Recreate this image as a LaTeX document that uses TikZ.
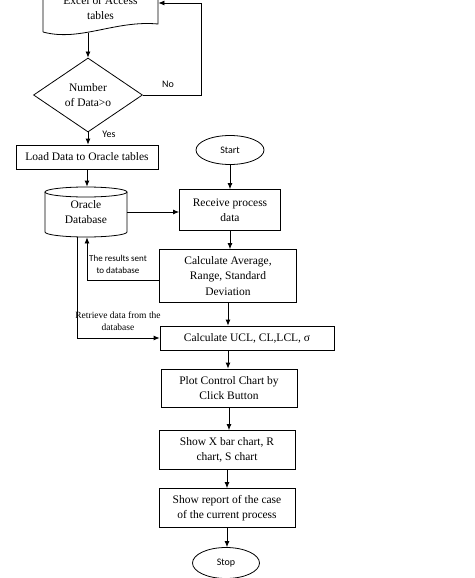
\documentclass[tikz,border=0pt]{standalone}
\usepackage{fontspec}
\setmainfont{Liberation Serif}
\newfontfamily\labfont{Carlito}
\usetikzlibrary{shapes.geometric,arrows.meta}

\begin{document}
\begin{tikzpicture}[
    x=1pt, y=-1pt,
    line width=0.8pt,
    >={Latex[length=6pt,width=5pt]},
    box/.style={rectangle, draw=black, align=center, inner sep=0pt, font=\fontsize{11.5}{15.5}\selectfont},
    term/.style={ellipse, draw=black, inner sep=0pt, font=\labfont\fontsize{10}{12}\selectfont},
    decision/.style={diamond, draw=black, inner sep=0pt, align=center, minimum width=109pt, minimum height=74pt, font=\fontsize{11.5}{15.5}\selectfont},
    tag/.style={inner sep=0pt, font=\labfont\fontsize{10}{12}\selectfont}
  ]

    \useasboundingbox (0,0) rectangle (474,578);
    \clip (0,0) rectangle (474,578);

    % Source document (cut at the top)
    \node[align=center, inner sep=0pt, minimum width=115pt, minimum height=50pt,
      font=\fontsize{11.5}{15.5}\selectfont] (doc) at (100.5,8) {Excel or Access\\tables};
    \draw (43,32) -- (43,-20) -- (158,-20) -- (158,24)
      .. controls (115,20) and (80,42) .. (43,32);
    \coordinate (docout) at (88,33);

    % Decision
    \node[decision] (dec) at (88,95) {Number\\of Data>o};
    \coordinate (loopc) at (201,3);

    % Left column
    \node[box, minimum width=142pt, minimum height=24pt] (load) at (87,157) {Load Data to Oracle tables};

    \node[align=center, inner sep=0pt, minimum width=82pt, minimum height=50pt,
      font=\fontsize{11.5}{15.5}\selectfont] (db) at (86,212) {Oracle\\Database};
    \draw (86,192) ellipse [x radius=41pt, y radius=5pt];
    \draw (45,192) -- (45,232) arc[start angle=180, end angle=360, x radius=41pt, y radius=5pt] -- (127,192);

    % Main column
    \node[term, minimum width=68pt, minimum height=29pt] (start) at (230,150) {Start};
    \node[box, minimum width=101pt, minimum height=41pt] (recv) at (230,210) {Receive process\\data};
    \node[box, minimum width=137pt, minimum height=53pt] (calc) at (228,276) {Calculate Average,\\Range, Standard\\Deviation};
    \node[box, minimum width=174pt, minimum height=24pt] (ucl) at (247,338) {Calculate UCL, CL,LCL, σ};
    \node[box, minimum width=136pt, minimum height=38pt] (plot) at (229,388) {Plot Control Chart by\\Click Button};
    \node[box, minimum width=136pt, minimum height=39pt] (showx) at (227,450) {Show X bar chart, R\\chart, S chart};
    \node[box, minimum width=136pt, minimum height=39pt] (report) at (227,508) {Show report of the case\\of the current process};
    \node[term, minimum width=67pt, minimum height=31pt] (stop) at (226,563) {Stop};

    % Connectors
    \draw[->] (docout) -- (dec.north);
    \draw[->] (dec.east) -| (loopc) -- (loopc -| doc.east);
    \draw[->] (dec.south) -- (dec.south |- load.north);
    \draw[->] (load.south) -- (load.south |- db.north);
    \draw[->] (db.east) -- (db.east -| recv.west);
    \draw[->] (start.south) -- (recv.north);
    \draw[->] (recv.south) -- (recv.south |- calc.north);
    \draw[->] ([yshift=-4pt]calc.west) -| ([xshift=1pt]db.south);
    \draw[->] ([xshift=-9pt]db.south) |- (ucl.west);
    \draw[->] (calc.south) -- (calc.south |- ucl.north);
    \draw[->] (calc.south |- ucl.south) -- (calc.south |- plot.north);
    \draw[->] (plot.south) -- (plot.south |- showx.north);
    \draw[->] (showx.south) -- (showx.south |- report.north);
    \draw[->] (report.south) -- (report.south |- stop.north);

    % Labels
    \node[tag] (yes) at (109,134) {Yes};
    \node[tag] (no) at (168,84) {No};
    \node[tag, align=center, font=\labfont\fontsize{9}{12}\selectfont] (lres) at (118,264) {The results sent\\to database};
    \node[inner sep=0pt, align=center, font=\fontsize{9.5}{11.5}\selectfont] (lret) at (118,321) {Retrieve data from the\\database};

  \end{tikzpicture}
\end{document}
